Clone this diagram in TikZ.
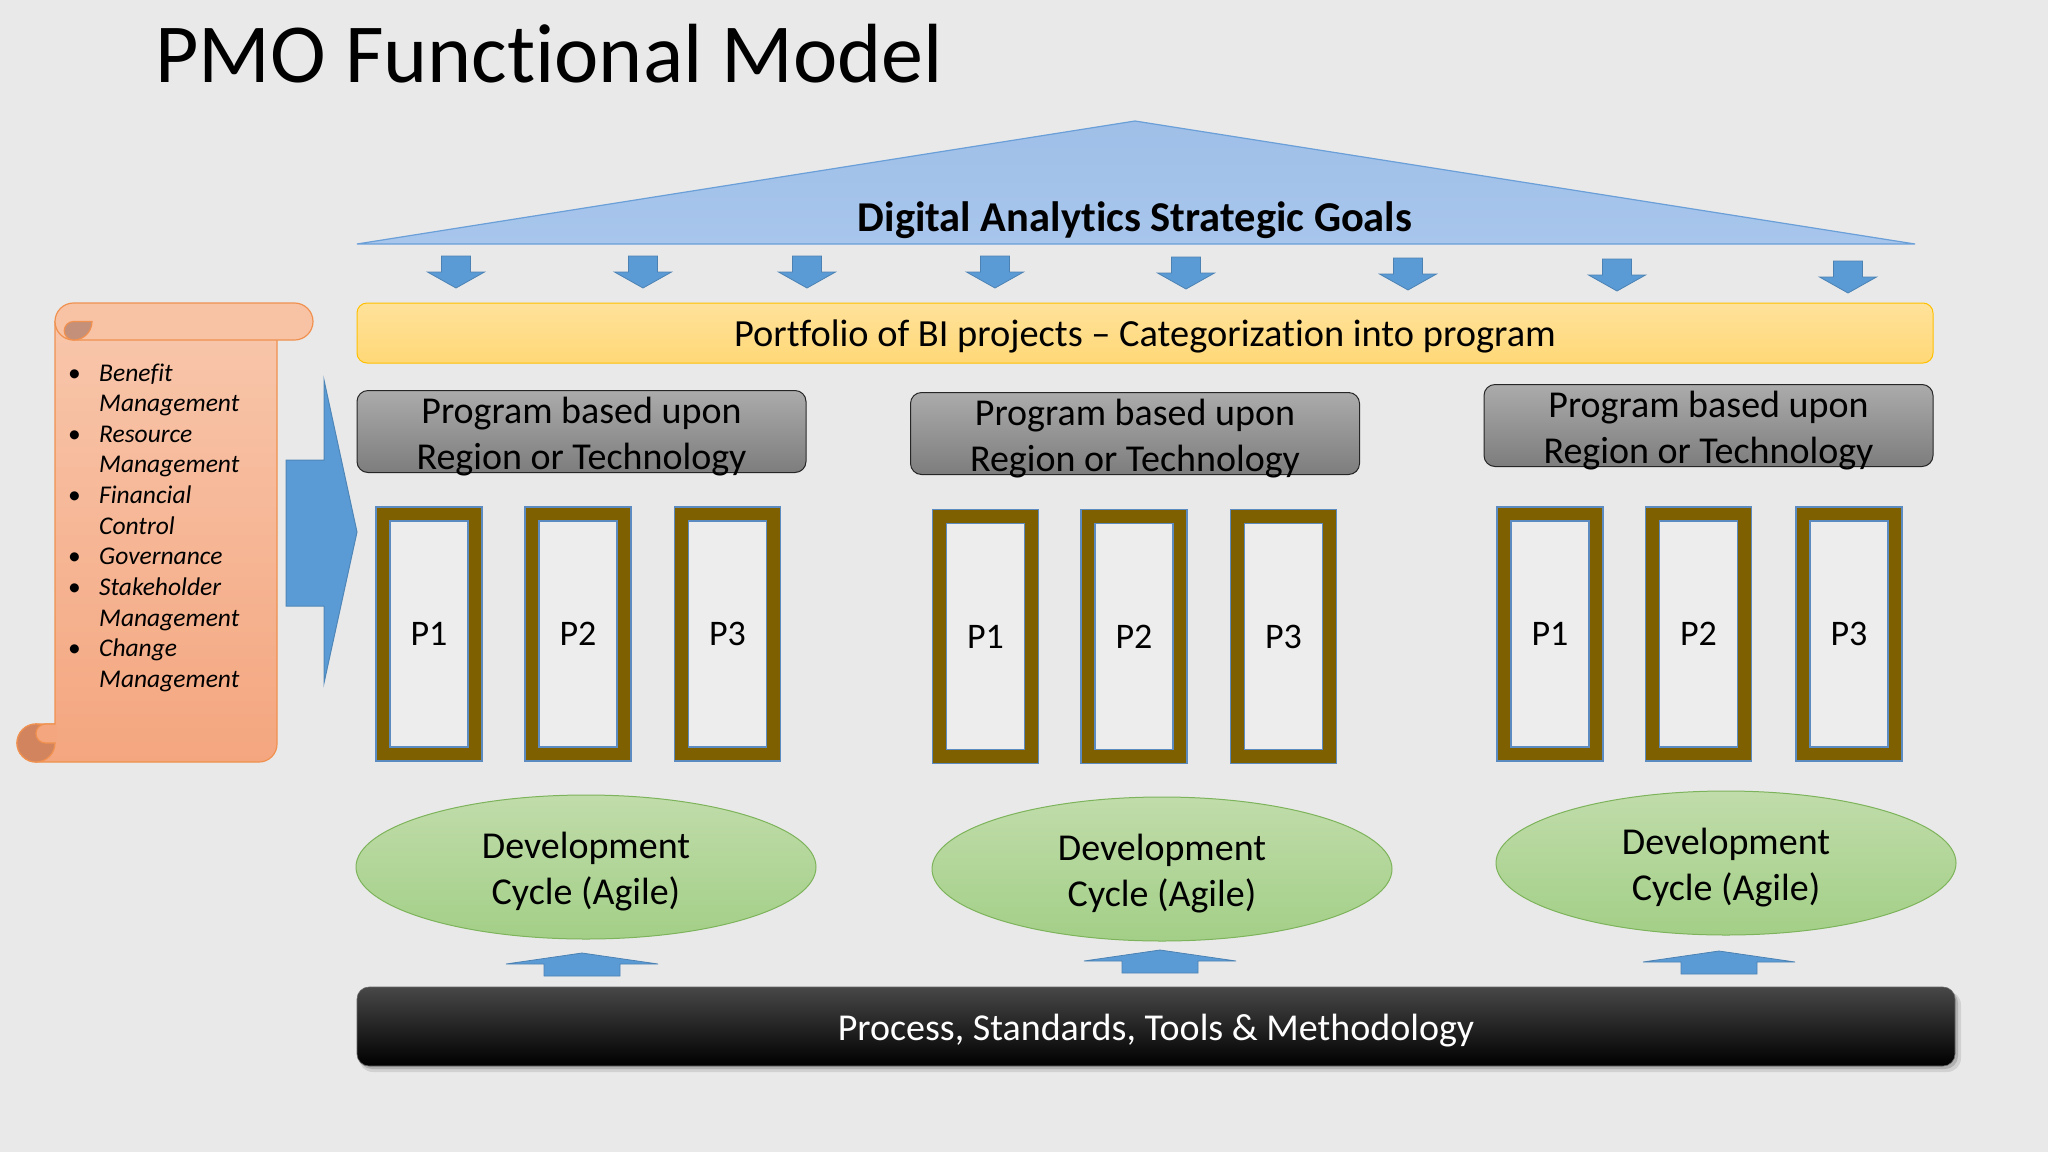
\documentclass[tikz,border=0pt]{standalone}
\usepackage{fontspec}
\setmainfont{Carlito}[Ligatures={TeX,NoCommon}]
\usetikzlibrary{calc}
\definecolor{bg}{HTML}{E9E9EA}
\definecolor{triA}{HTML}{9FBFE8}
\definecolor{triB}{HTML}{A8C6EC}
\definecolor{triLine}{HTML}{6A9FD8}
\definecolor{arrowBlue}{HTML}{5B9BD5}
\definecolor{arrowEdge}{HTML}{41719C}
\definecolor{yelTop}{HTML}{FFE29A}
\definecolor{yelBot}{HTML}{FFD877}
\definecolor{yelLine}{HTML}{FFC000}
\definecolor{grayTop}{HTML}{ABABAB}
\definecolor{grayBot}{HTML}{7D7D7D}
\definecolor{olive}{HTML}{7F6000}
\definecolor{frameBlue}{HTML}{5B8BC0}
\definecolor{innerFill}{HTML}{EDEDEE}
\definecolor{greenTop}{HTML}{C0DCAA}
\definecolor{greenBot}{HTML}{A3CF87}
\definecolor{greenLine}{HTML}{7DB35A}
\definecolor{salTop}{HTML}{F8C6AB}
\definecolor{salBot}{HTML}{F4A67F}
\definecolor{salRoll}{HTML}{F8C2A5}
\definecolor{salLine}{HTML}{F0914F}
\definecolor{curlTop}{HTML}{C4907A}
\definecolor{curlBot}{HTML}{D2845E}
\tikzset{
  txt/.style={inner sep=0, anchor=base, font=\fontsize{38}{46}\selectfont},
  progbox/.style={draw=black!85, line width=1, rounded corners=11, top color=grayTop, bottom color=grayBot, inner sep=0, minimum width=449, minimum height=82},
  pframe/.style={fill=olive, draw=frameBlue, line width=1.2, inner sep=0, minimum width=106, minimum height=254},
  pinner/.style={fill=innerFill, draw=frameBlue, line width=1.2, inner sep=0, minimum width=78, minimum height=226, font=\fontsize{36}{40}\selectfont},
  devell/.style={ellipse, draw=greenLine, line width=1, top color=greenTop, bottom color=greenBot, inner sep=0, minimum width=460, minimum height=144},
  downarrow/.style={fill=arrowBlue, draw=arrowEdge!60!arrowBlue, line width=0.8},
}
\usetikzlibrary{shapes.geometric}
\begin{document}
\begin{tikzpicture}[x=1pt,y=-1pt]
\fill[bg] (0,0) rectangle (2048,1152);
\useasboundingbox (0,0) rectangle (2048,1152);

% title
\node[inner sep=0, anchor=base west, font=\fontsize{84}{100}\selectfont] (title) at (155,82) {PMO Functional Model};

% roof triangle
\path[top color=triA, bottom color=triB, draw=triLine, line width=1.2] (357,244) -- (1135,121) -- (1915,244) -- cycle;
\node[txt, font=\fontsize{42.5}{46}\selectfont\bfseries] (goals) at (1135,231) {Digital Analytics Strategic Goals};

% small down arrows
\foreach \cx/\dy in {456/0,643/0,807/0,995/0,1186/1,1408/2,1617/3,1848/5}{
  \path[downarrow] (\cx-14.5,256+\dy) -- (\cx+14.5,256+\dy) -- (\cx+14.5,272+\dy) -- (\cx+28.5,272+\dy) -- (\cx,288+\dy) -- (\cx-28.5,272+\dy) -- (\cx-14.5,272+\dy) -- cycle;
}

% portfolio bar
\node[draw=yelLine, line width=1, rounded corners=10, top color=yelTop, bottom color=yelBot, inner sep=0, minimum width=1576, minimum height=60] (portfolio) at (1145,333) {};
\node[txt, font=\fontsize{38.4}{46}\selectfont] (portfoliotext) at (1145,346) {Portfolio of BI projects – Categorization into program};

% program boxes
\node[progbox] (prog1) at (581.5,431.5) {};
\node[progbox] (prog2) at (1135,433.5) {};
\node[progbox] (prog3) at (1708.5,425.5) {};
\node[txt] (prog1a) at (581.5,423) {Program based upon};
\node[txt] (prog1b) at (581.5,469) {Region or Technology};
\node[txt] (prog2a) at (1135,425) {Program based upon};
\node[txt] (prog2b) at (1135,471) {Region or Technology};
\node[txt] (prog3a) at (1708.5,417) {Program based upon};
\node[txt] (prog3b) at (1708.5,463) {Region or Technology};

% big left arrow
\path[fill=arrowBlue, draw=arrowEdge!50!arrowBlue, line width=1] (286,460) -- (324,460) -- (324,380) -- (357,532) -- (324,683) -- (324,606) -- (286,606) -- cycle;

% scroll
\path[top color=salTop, bottom color=salBot, draw=salLine, line width=1.2] (55,321.5) -- (55,724) -- (36,724) arc[start angle=-90, end angle=-270, radius=19] -- (259,762) arc[start angle=90, end angle=0, radius=18] -- (277,321.5) -- cycle;
\path[fill=curlBot, draw=salLine, line width=1.2] (36,743) circle[radius=19];
\path[fill=salBot, draw=salLine, line width=1.2] (55,724) -- (45.5,724) arc[start angle=-90, end angle=-270, radius=9.5] -- (55,743);
\fill[salBot] (54.4,725) rectangle (57,742.4);
\path[fill=salRoll, draw=salLine, line width=1.2] (73.5,303) -- (294.5,303) arc[start angle=-90, end angle=90, radius=18.5] -- (73.5,340) arc[start angle=90, end angle=270, radius=18.5] -- cycle;
\path[fill=curlTop, draw=salLine, line width=1.2] (73.5,321.5) arc[start angle=-90, end angle=-270, radius=9.25] arc[start angle=90, end angle=0, radius=18.5] -- cycle;
\node[inner sep=0, anchor=base west, font=\fontsize{25.5}{30.65}\selectfont\itshape] (scrolltext) at (68,381) {%
\begin{tabular}[t]{@{}p{31pt}@{}l@{}}
{\upshape •} & Benefit\\
 & Management\\
{\upshape •} & Resource\\
 & Management\\
{\upshape •} & Financial\\
 & Control\\
{\upshape •} & Governance\\
{\upshape •} & Stakeholder\\
 & Management\\
{\upshape •} & Change\\
 & Management
\end{tabular}};

% project frames
\foreach \g/\cy/\xa/\xb/\xc in {1/634/429/578/727.5, 2/636.5/985.5/1134/1283.5, 3/634/1550/1698.5/1849}{
  \node[pframe] (g\g f1) at (\xa,\cy) {};
  \node[pinner] (g\g p1) at (\xa,\cy) {P1};
  \node[pframe] (g\g f2) at (\xb,\cy) {};
  \node[pinner] (g\g p2) at (\xb,\cy) {P2};
  \node[pframe] (g\g f3) at (\xc,\cy) {};
  \node[pinner] (g\g p3) at (\xc,\cy) {P3};
}

% development ellipses
\node[devell] (dev1) at (586,867) {};
\node[devell] (dev2) at (1162,869) {};
\node[devell] (dev3) at (1726,863) {};
\foreach \n/\cx/\cy in {1/586/867, 2/1162/869, 3/1726/863}{
  \node[txt] (dev\n a) at (\cx,\cy-9) {Development};
  \node[txt] (dev\n b) at (\cx,\cy+37) {Cycle (Agile)};
}

% up arrows
\foreach \cx/\ay in {582/953, 1160/950, 1719/951}{
  \path[downarrow] (\cx,\ay) -- (\cx+76,\ay+11) -- (\cx+38,\ay+11) -- (\cx+38,\ay+23) -- (\cx-38,\ay+23) -- (\cx-38,\ay+11) -- (\cx-76,\ay+11) -- cycle;
}

% process bar with shadow
\fill[black, opacity=0.10, rounded corners=14] (359,991) rectangle (1961,1072);
\fill[black, opacity=0.15, rounded corners=13] (359,990) rectangle (1958,1069);
\node[rounded corners=12, top color=black!72, middle color=black, bottom color=black, draw=black!60, line width=0.6, inner sep=0, minimum width=1598, minimum height=79] (process) at (1156,1026.5) {};
\node[txt, text=white] (processtext) at (1156,1040) {Process, Standards, Tools \& Methodology};
\end{tikzpicture}
\end{document}
